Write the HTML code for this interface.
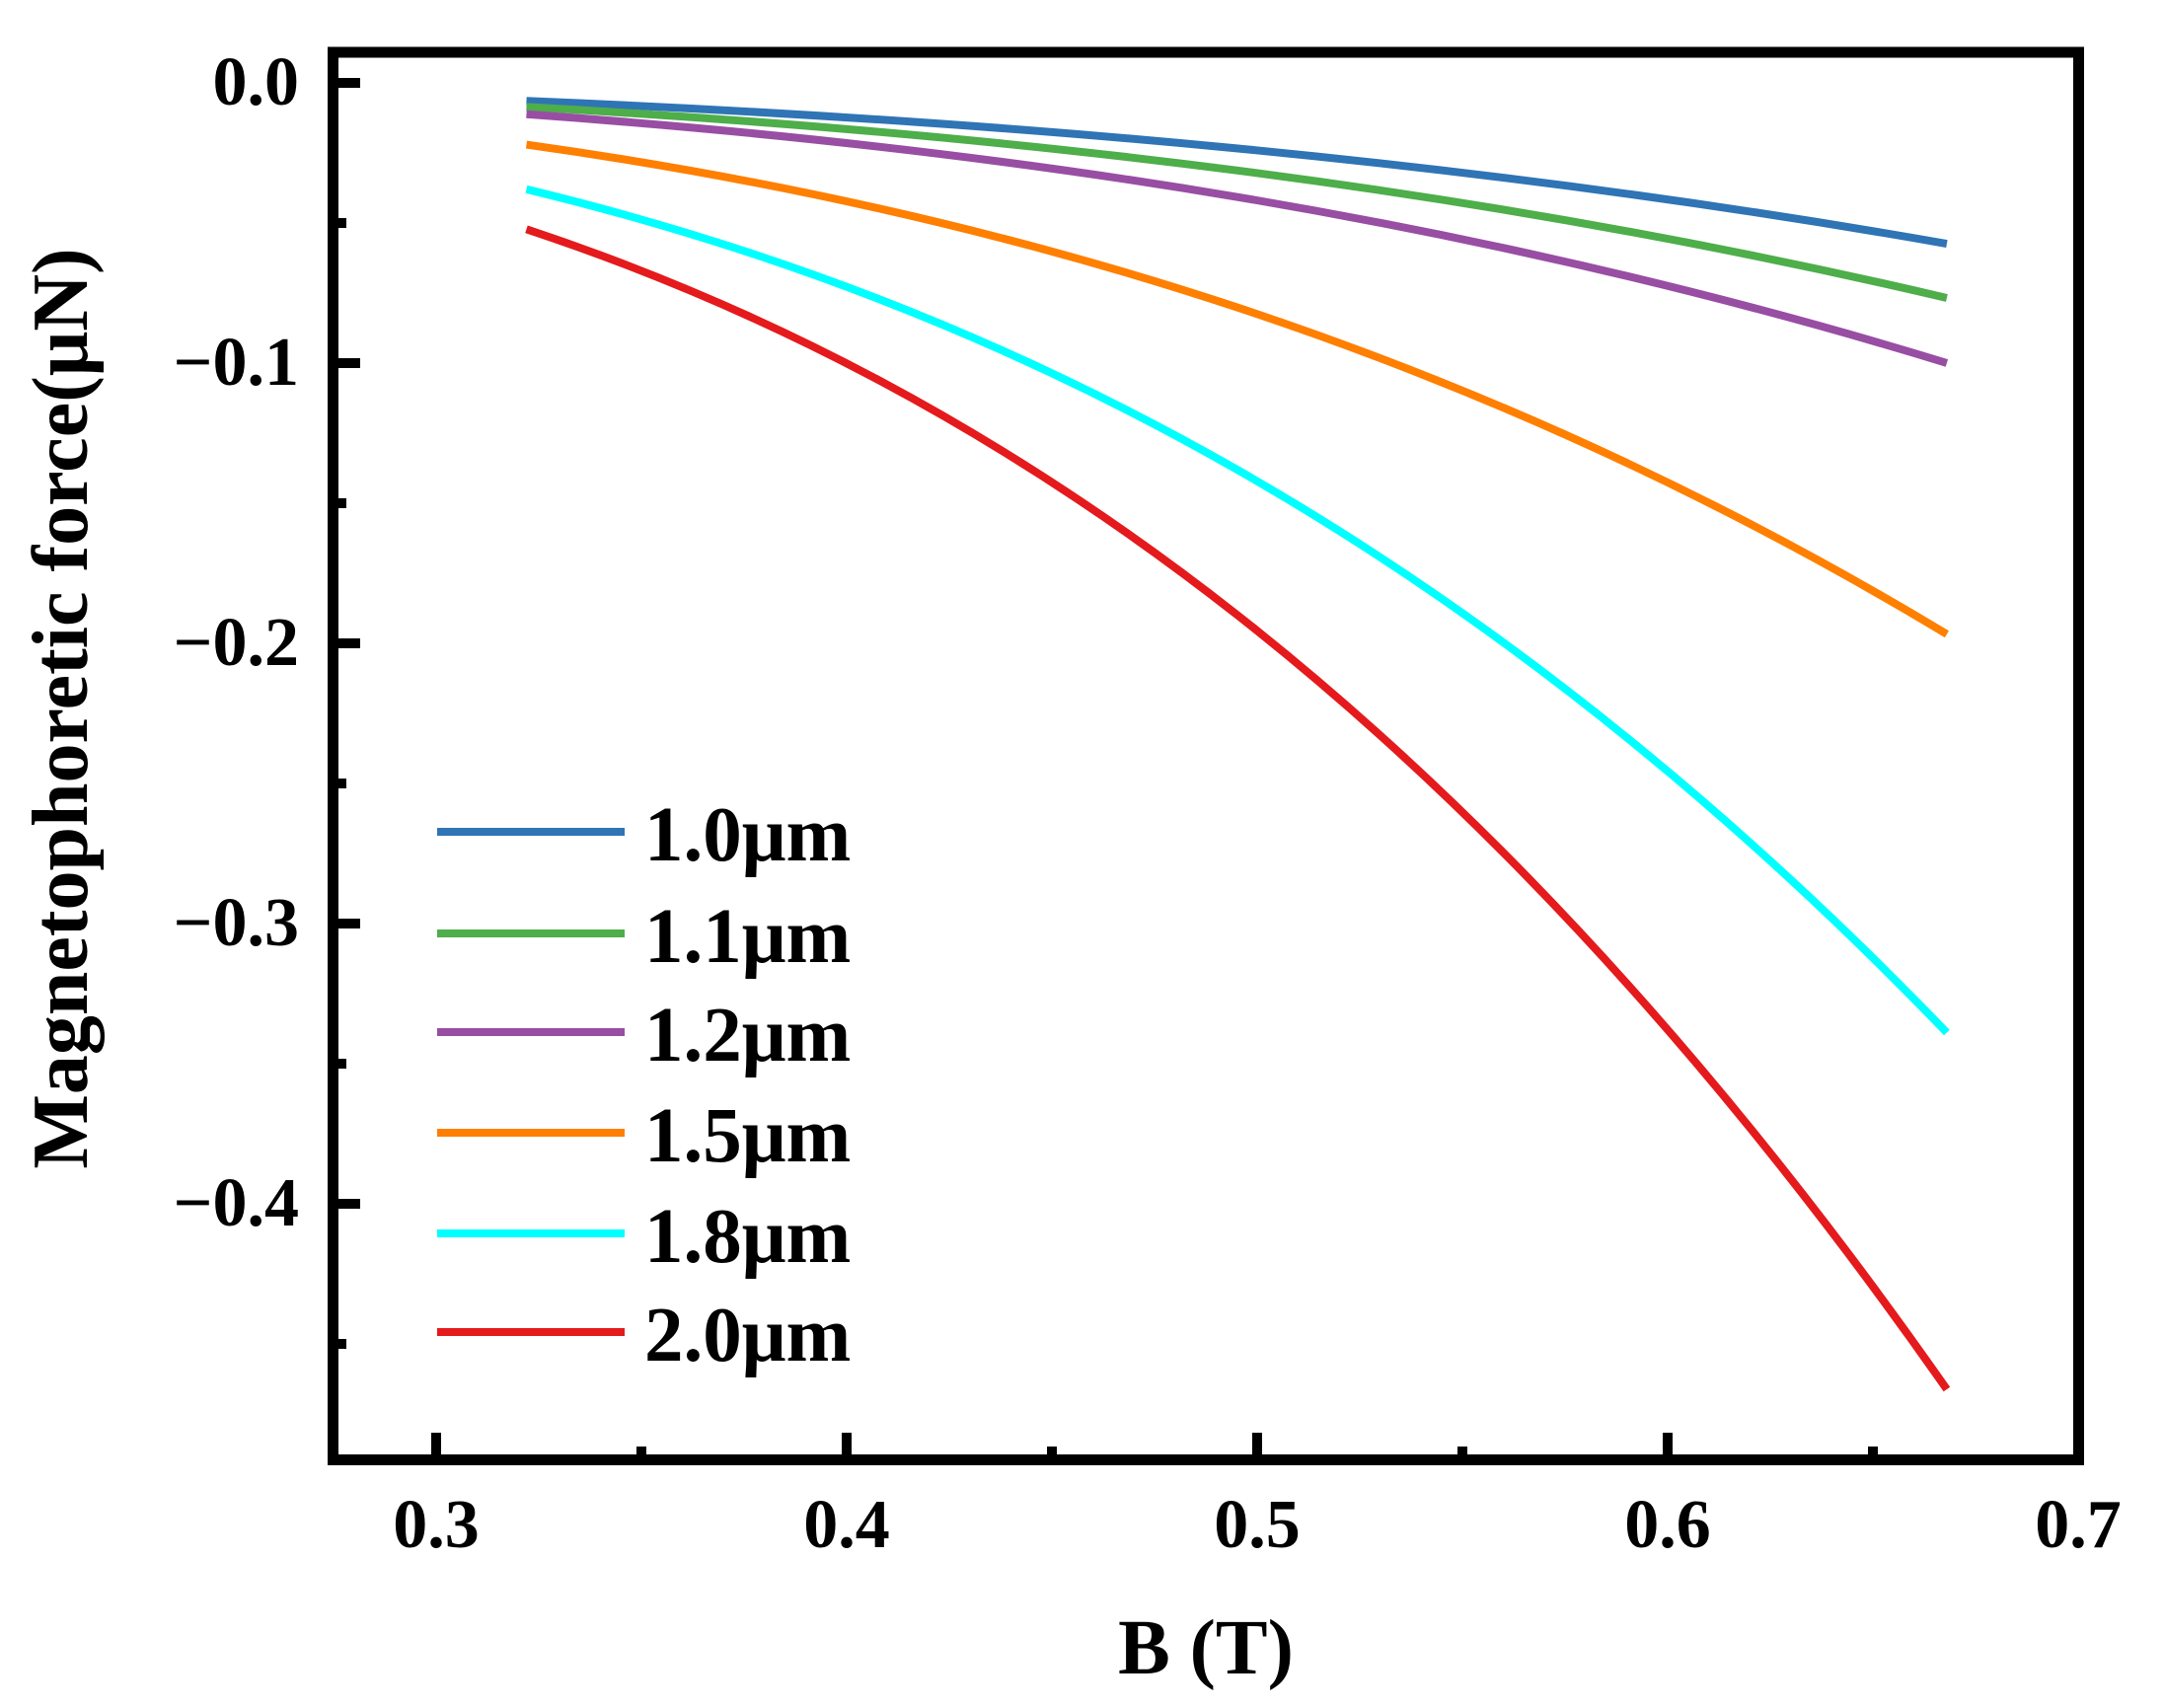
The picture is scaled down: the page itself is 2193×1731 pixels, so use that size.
<!DOCTYPE html>
<html>
<head>
<meta charset="utf-8">
<style>
  html, body { margin: 0; padding: 0; background: #ffffff; }
  svg { display: block; }
  text { font-family: "Liberation Serif", "Times New Roman", serif; font-weight: bold; fill: #000; }
</style>
</head>
<body>
<svg width="2193" height="1731" viewBox="0 0 2193 1731" xmlns="http://www.w3.org/2000/svg">
  <rect x="0" y="0" width="2193" height="1731" fill="#ffffff"/>

  <!-- curves: F = -c * B^3, exact cubic Beziers -->
  <g fill="none" stroke-width="8" stroke-linecap="butt">
    <path stroke="#2f74b5" d="M533.5,102.26 C1013.3,121.88 1493.1,162.59 1972.9,247.04"/>
    <path stroke="#4dae4a" d="M533.5,108.41 C1013.3,134.65 1493.1,189.08 1972.9,301.98"/>
    <path stroke="#984ea3" d="M533.5,115.80 C1013.3,149.97 1493.1,220.86 1972.9,367.92"/>
    <path stroke="#ff7f00" d="M533.5,146.58 C1013.3,213.82 1493.1,353.32 1972.9,642.72"/>
    <path stroke="#00ffff" d="M533.5,191.81 C1013.3,307.65 1493.1,547.97 1972.9,1046.52"/>
    <path stroke="#e41a1c" d="M533.5,232.29 C1013.3,391.64 1493.1,722.22 1972.9,1408.0"/>
  </g>

  <!-- frame -->
  <rect x="337.5" y="53" width="1769" height="1426.5" fill="none" stroke="#000" stroke-width="11"/>

  <!-- y ticks -->
  <g stroke="#000" stroke-width="10">
    <line x1="343" y1="84" x2="365" y2="84"/>
    <line x1="343" y1="368" x2="365" y2="368"/>
    <line x1="343" y1="652" x2="365" y2="652"/>
    <line x1="343" y1="936" x2="365" y2="936"/>
    <line x1="343" y1="1220" x2="365" y2="1220"/>
    <line x1="343" y1="226" x2="351" y2="226"/>
    <line x1="343" y1="510" x2="351" y2="510"/>
    <line x1="343" y1="794" x2="351" y2="794"/>
    <line x1="343" y1="1078" x2="351" y2="1078"/>
    <line x1="343" y1="1362" x2="351" y2="1362"/>
  </g>
  <!-- x ticks -->
  <g stroke="#000" stroke-width="10">
    <line x1="442" y1="1474" x2="442" y2="1452"/>
    <line x1="858" y1="1474" x2="858" y2="1452"/>
    <line x1="1274" y1="1474" x2="1274" y2="1452"/>
    <line x1="1690" y1="1474" x2="1690" y2="1452"/>
    <line x1="650" y1="1474" x2="650" y2="1466"/>
    <line x1="1066" y1="1474" x2="1066" y2="1466"/>
    <line x1="1482" y1="1474" x2="1482" y2="1466"/>
    <line x1="1898" y1="1474" x2="1898" y2="1466"/>
  </g>

  <!-- y tick labels -->
  <g font-size="70" text-anchor="end">
    <text x="303" y="106">0.0</text>
    <text x="303" y="390">−0.1</text>
    <text x="303" y="674">−0.2</text>
    <text x="303" y="958">−0.3</text>
    <text x="303" y="1242">−0.4</text>
  </g>

  <!-- x tick labels -->
  <g font-size="70" text-anchor="middle">
    <text x="442" y="1568">0.3</text>
    <text x="858" y="1568">0.4</text>
    <text x="1274" y="1568">0.5</text>
    <text x="1690" y="1568">0.6</text>
    <text x="2106" y="1568">0.7</text>
  </g>

  <!-- axis titles -->
  <text x="1222" y="1696" font-size="79" text-anchor="middle">B (T)</text>
  <text transform="translate(88,718) rotate(-90)" font-size="80" text-anchor="middle">Magnetophoretic force(μN)</text>

  <!-- legend -->
  <g stroke-width="8">
    <line x1="443" y1="843" x2="633" y2="843" stroke="#2f74b5"/>
    <line x1="443" y1="946" x2="633" y2="946" stroke="#4dae4a"/>
    <line x1="443" y1="1046" x2="633" y2="1046" stroke="#984ea3"/>
    <line x1="443" y1="1148" x2="633" y2="1148" stroke="#ff7f00"/>
    <line x1="443" y1="1250" x2="633" y2="1250" stroke="#00ffff"/>
    <line x1="443" y1="1350" x2="633" y2="1350" stroke="#e41a1c"/>
  </g>
  <g font-size="79">
    <text x="653" y="872">1.0μm</text>
    <text x="653" y="975">1.1μm</text>
    <text x="653" y="1075">1.2μm</text>
    <text x="653" y="1177">1.5μm</text>
    <text x="653" y="1279">1.8μm</text>
    <text x="653" y="1379">2.0μm</text>
  </g>
</svg>
</body>
</html>
